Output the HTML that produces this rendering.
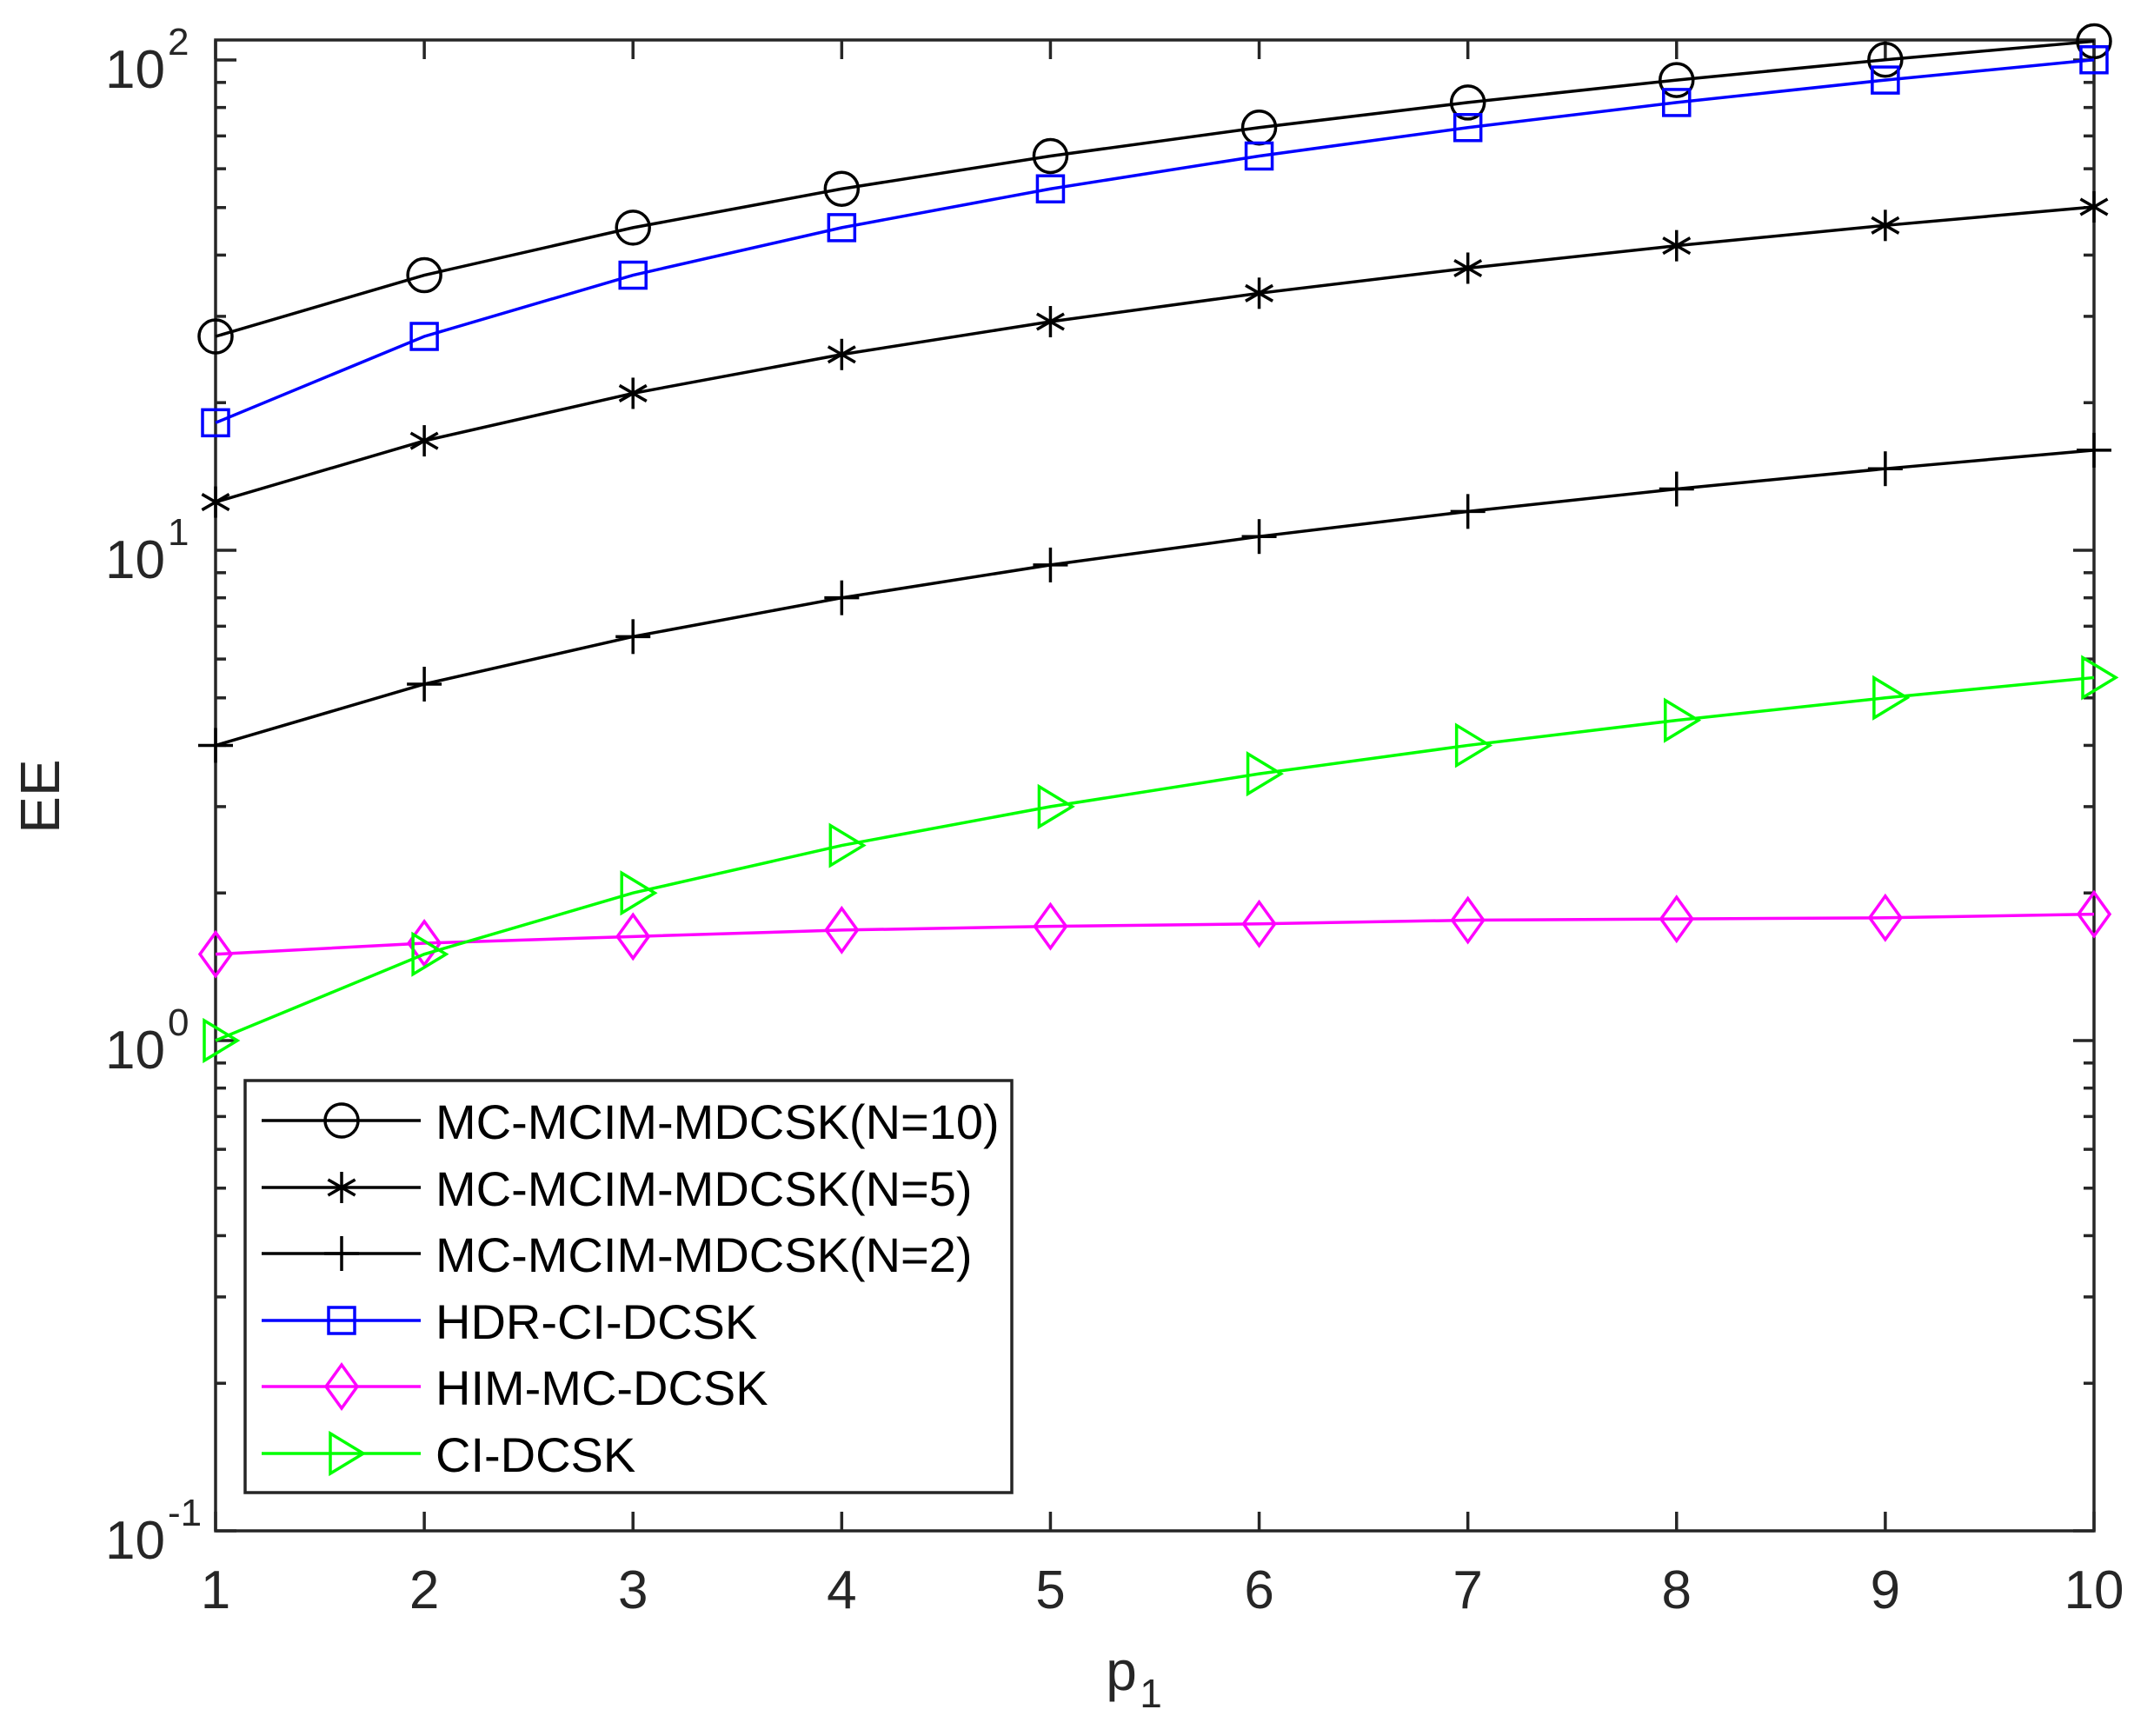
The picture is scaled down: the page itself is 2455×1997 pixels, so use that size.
<!DOCTYPE html>
<html><head><meta charset="utf-8"><style>
html,body{margin:0;padding:0;background:#fff;}
svg{display:block;font-family:"Liberation Sans",Arial,sans-serif;}
</style></head><body>
<svg id="s" width="2455" height="1997" viewBox="0 0 2455 1997" xmlns="http://www.w3.org/2000/svg">
<rect width="2455" height="1997" fill="#fff"/>
<g id="g"></g>
</svg>
<script>
const NS="http://www.w3.org/2000/svg";
const g=document.getElementById('g');
function el(t,a,txt){const e=document.createElementNS(NS,t);for(const k in a)e.setAttribute(k,a[k]);if(txt!==undefined)e.textContent=txt;g.appendChild(e);return e;}
const L=248,R=2409,T=46,B=1761;
const X=p=>L+(p-1)*(R-L)/9;
const Y=v=>1761-(Math.log10(v)+1)*564;
const ax="#262626";
for(let p=1;p<=10;p++){
  const x=X(p);
  el('line',{x1:x,y1:B,x2:x,y2:B-22,stroke:ax,'stroke-width':3.5});
  el('line',{x1:x,y1:T,x2:x,y2:T+22,stroke:ax,'stroke-width':3.5});
  el('text',{x:x,y:1850,'font-size':62,'text-anchor':'middle',fill:ax},String(p));
}
for(let d=-1;d<=2;d++){
  for(let m=1;m<=9;m++){
    if(d==2&&m>1)break;
    const v=m*Math.pow(10,d);const y=Y(v);
    if(y<T-1)continue;
    const len=m==1?24:12;
    el('line',{x1:L,y1:y,x2:L+len,y2:y,stroke:ax,'stroke-width':3.5});
    el('line',{x1:R,y1:y,x2:R-len,y2:y,stroke:ax,'stroke-width':3.5});
  }
  const y=Y(Math.pow(10,d));
  el('text',{x:190,y:y+32,'font-size':62,'text-anchor':'end',fill:ax},'10');
  el('text',{x:193,y:y-6,'font-size':44,'text-anchor':'start',fill:ax},String(d));
}
el('rect',{x:L,y:T,width:R-L,height:B-T,fill:'none',stroke:ax,'stroke-width':3.5});
el('text',{x:68,y:916,'font-size':64,'text-anchor':'middle',fill:ax,transform:'rotate(-90 68 916)'},'EE');
el('text',{x:1290,y:1944,'font-size':64,'text-anchor':'middle',fill:ax},'p');
el('text',{x:1324,y:1964,'font-size':46,'text-anchor':'middle',fill:ax},'1');
const ps=[1,2,3,4,5,6,7,8,9,10];
const series=[
 {c:'#000',m:'o',v:ps.map(p=>9.1*(p+2))},
 {c:'#000',m:'*',v:ps.map(p=>4.18*(p+2))},
 {c:'#000',m:'+',v:ps.map(p=>1.3333*(p+2))},
 {c:'#0000ff',m:'s',v:ps.map(p=>9.1*(p+1))},
 {c:'#ff00ff',m:'d',v:[1.5,1.58,1.63,1.68,1.71,1.73,1.76,1.77,1.78,1.81]},
 {c:'#00ff00',m:'>',v:ps.map(p=>(p+1)/2)}
];
function marker(m,x,y,c){
  const a={fill:'none',stroke:c,'stroke-width':3.5};
  if(m=='o')el('circle',Object.assign({cx:x,cy:y,r:19},a));
  if(m=='s')el('rect',Object.assign({x:x-15,y:y-15,width:30,height:30},a));
  if(m=='d')el('polygon',Object.assign({points:`${x},${y-25} ${x+18},${y} ${x},${y+25} ${x-18},${y}`},a));
  if(m=='>')el('polygon',Object.assign({points:`${x-13},${y-23} ${x+25},${y} ${x-13},${y+23}`},a));
  if(m=='+'){el('line',Object.assign({x1:x-20,y1:y,x2:x+20,y2:y},a));el('line',Object.assign({x1:x,y1:y-20,x2:x,y2:y+20},a));}
  if(m=='*'){for(const ang of [90,30,-30]){const r=ang*Math.PI/180,dx=18*Math.cos(r),dy=18*Math.sin(r);el('line',Object.assign({x1:x-dx,y1:y-dy,x2:x+dx,y2:y+dy},a));}}
}
series.forEach(s=>{
  el('polyline',{points:ps.map((p,i)=>X(p)+','+Y(s.v[i])).join(' '),fill:'none',stroke:s.c,'stroke-width':3.5});
  ps.forEach((p,i)=>marker(s.m,X(p),Y(s.v[i]),s.c));
});
el('rect',{x:282,y:1243,width:882,height:474,fill:'#fff',stroke:ax,'stroke-width':3.5});
const names=['MC-MCIM-MDCSK(N=10)','MC-MCIM-MDCSK(N=5)','MC-MCIM-MDCSK(N=2)','HDR-CI-DCSK','HIM-MC-DCSK','CI-DCSK'];
const rows=[1289,1366,1442,1519,1595,1672];
series.forEach((s,i)=>{
  const y=rows[i];
  el('line',{x1:301,y1:y,x2:484,y2:y,stroke:s.c,'stroke-width':3.5});
  marker(s.m,393,y,s.c);
  el('text',{x:501,y:y+21,'font-size':56,fill:'#000'},names[i]);
});
</script>
</body></html>
